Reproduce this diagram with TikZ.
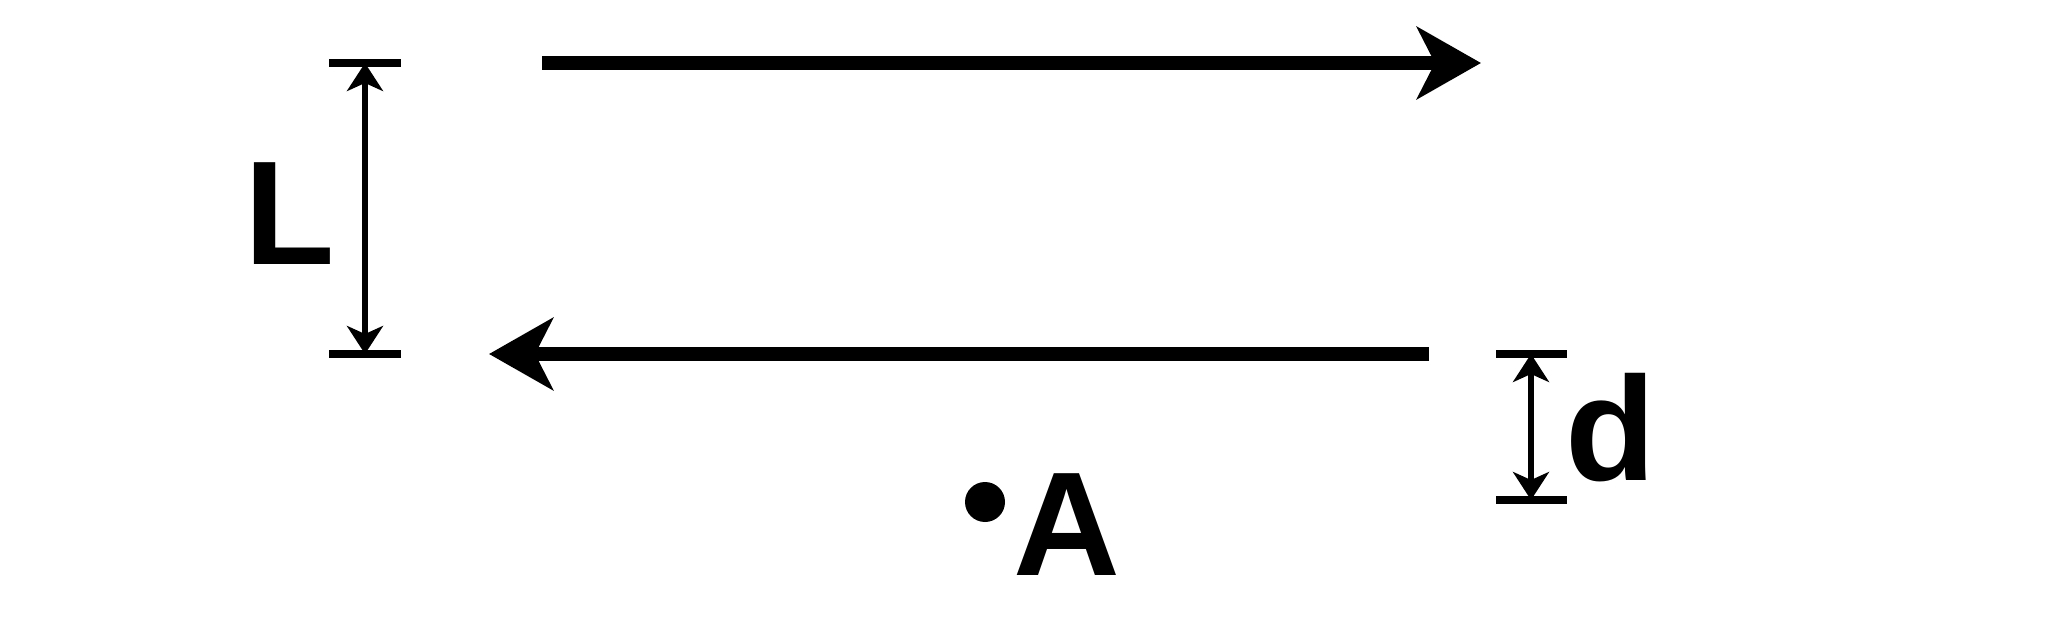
\documentclass[tikz,border=0pt]{standalone}
\usepackage{fontspec}
\setmainfont{Liberation Sans}
\usetikzlibrary{arrows.meta}
\begin{document}
\begin{tikzpicture}[x=0.5pt,y=-0.5pt,
  bigarrow/.style={line width=7.2pt,-{Stealth[length=32pt,width=36pt,inset=9pt]}},
  dimline/.style={line width=2.6pt,{Stealth[length=14pt,width=18pt,inset=4pt]}-{Stealth[length=14pt,width=18pt,inset=4pt]}},
  dimbar/.style={line width=4pt},
  lbl/.style={font=\fontsize{74}{80}\selectfont\bfseries,inner sep=0pt,anchor=base}]
\useasboundingbox (0,0) rectangle (2046,636);
% main arrows
\coordinate (t1) at (542,63);
\coordinate (t2) at (1481,63);
\coordinate (b1) at (1429,354);
\coordinate (b2) at (489,354);
\draw[bigarrow] (t1) -- (t2);
\draw[bigarrow] (b1) -- (b2);
% L dimension
\coordinate (Lt) at (365,63);
\coordinate (Lb) at (365,354);
\draw[dimbar] (329,63) -- (401,63);
\draw[dimbar] (329,354) -- (401,354);
\draw[dimline] (Lt) -- (Lb);
\node[lbl] (L) at (290,265) {L};
% d dimension
\coordinate (dt) at (1531,354);
\coordinate (db) at (1531,500);
\draw[dimbar] (1496,354) -- (1567,354);
\draw[dimbar] (1496,500) -- (1567,500);
\draw[dimline] (dt) -- (db);
\node[lbl] (d) at (1611,480) {d};
% point A
\fill (985,502) circle[radius=10pt];
\node[lbl] (A) at (1067,575) {A};
\end{tikzpicture}
\end{document}
